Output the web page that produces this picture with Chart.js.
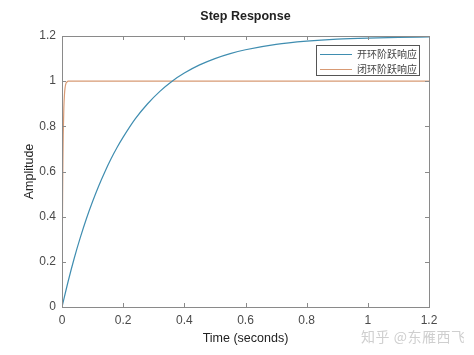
<!DOCTYPE html>
<html>
<head>
<meta charset="utf-8">
<script src="https://cdn.jsdelivr.net/npm/chart.js@4/dist/chart.umd.min.js"></script>
<style>
  html,body{margin:0;padding:0;background:#fff;}
  #wrap{position:relative;width:474px;height:355px;}
  #wm{position:absolute;left:361px;top:326px;font-family:"Noto Sans CJK SC",sans-serif;font-size:14px;letter-spacing:0.5px;color:#cfcfcf;white-space:nowrap;overflow:hidden;width:103px;}
</style>
</head>
<body>
<div id="wrap">
<canvas id="c" width="474" height="355"></canvas>
<div id="wm">知乎 @东雁西飞</div>
</div>
<script>
const chartTitle = "Step Response";
const xTitle = "Time (seconds)";
const yTitle = "Amplitude";
const seriesNames = ["开环阶跃响应", "闭环阶跃响应"];
const xTicks = [0, 0.2, 0.4, 0.6, 0.8, 1, 1.2];
const yTicks = [0, 0.2, 0.4, 0.6, 0.8, 1, 1.2];

const openTime = [0,0.02,0.04,0.06,0.08,0.1,0.12,0.14,0.16,0.18,0.2,0.24,0.28,0.32,0.36,0.4,0.45,0.5,0.55,0.6,0.7,0.8,0.9,1.0,1.1,1.2];
const openAmp  = [0,0.113,0.216,0.308,0.392,0.467,0.536,0.598,0.655,0.706,0.752,0.834,0.900,0.955,1.000,1.036,1.072,1.100,1.122,1.139,1.163,1.177,1.186,1.191,1.194,1.196];

const closedTime = [0,0.001,0.002,0.003,0.004,0.006,0.008,0.010,0.013,0.016,0.020,0.1,0.3,0.6,0.9,1.2];
const closedAmp  = [0,0.30,0.50,0.65,0.76,0.88,0.94,0.97,0.99,0.996,1.0,1.0,1.0,1.0,1.0,1.0];

const toPts = (xs, ys) => xs.map((x, i) => ({x: x, y: ys[i]}));

const axisColor = "#8a8a8a";
const labelColor = "#4a4a4a";
const baseFont = "'Liberation Sans', Arial, sans-serif";

const framePlugin = {
  id: "frame",
  afterDatasetsDraw(chart) {
    const {ctx, chartArea: a, scales} = chart;
    ctx.save();
    ctx.strokeStyle = axisColor;
    ctx.lineWidth = 1;
    ctx.strokeRect(Math.round(a.left) + 0.5, Math.round(a.top) + 0.5, Math.round(a.right - a.left), Math.round(a.bottom - a.top));
    const tl = 4;
    ctx.beginPath();
    xTicks.forEach(v => {
      const px = Math.round(scales.x.getPixelForValue(v)) + 0.5;
      ctx.moveTo(px, a.bottom); ctx.lineTo(px, a.bottom - tl);
      ctx.moveTo(px, a.top); ctx.lineTo(px, a.top + tl);
    });
    yTicks.forEach(v => {
      const py = Math.round(scales.y.getPixelForValue(v)) + 0.5;
      ctx.moveTo(a.left, py); ctx.lineTo(a.left + tl, py);
      ctx.moveTo(a.right, py); ctx.lineTo(a.right - tl, py);
    });
    ctx.stroke();
    // title
    ctx.fillStyle = "#222";
    ctx.font = "bold 12.5px " + baseFont;
    ctx.textAlign = "center";
    ctx.textBaseline = "middle";
    ctx.fillText(chartTitle, (a.left + a.right) / 2, 17);
    // legend
    const lx = 316, ly = 45, lw = 103, lh = 30;
    ctx.fillStyle = "#fff";
    ctx.fillRect(lx, ly, lw, lh);
    ctx.strokeStyle = "#555";
    ctx.strokeRect(lx + 0.5, ly + 0.5, lw, lh);
    const cols = chart.data.datasets.map(d => d.borderColor);
    ctx.font = "10px 'Noto Sans CJK SC', sans-serif";
    ctx.textAlign = "left";
    seriesNames.forEach((n, i) => {
      const yy = ly + 8.5 + i * 15;
      ctx.strokeStyle = cols[i];
      ctx.beginPath();
      ctx.moveTo(lx + 4, Math.round(yy) + 0.5);
      ctx.lineTo(lx + 36, Math.round(yy) + 0.5);
      ctx.stroke();
      ctx.fillStyle = "#444";
      ctx.fillText(n, lx + 41, yy + 0.5);
    });
    ctx.restore();
  }
};

new Chart(document.getElementById("c"), {
  type: "line",
  data: {
    datasets: [
      {label: seriesNames[0], data: toPts(openTime, openAmp), borderColor: "#3f8db0", borderWidth: 1.2, pointRadius: 0, cubicInterpolationMode: "monotone", fill: false},
      {label: seriesNames[1], data: toPts(closedTime, closedAmp), borderColor: "#d89a74", borderWidth: 1.2, pointRadius: 0, cubicInterpolationMode: "monotone", fill: false}
    ]
  },
  options: {
    responsive: false,
    animation: false,
    layout: {padding: {top: 36, right: 45, left: 0, bottom: 0}},
    plugins: {legend: {display: false}, title: {display: false}, tooltip: {enabled: false}},
    scales: {
      x: {
        type: "linear", min: 0, max: 1.2,
        afterBuildTicks: s => { s.ticks = xTicks.map(v => ({value: v})); },
        afterFit: s => { s.height = 48; },
        grid: {display: false, drawTicks: false},
        border: {display: false},
        ticks: {padding: 6, color: labelColor, font: {family: baseFont, size: 12}, maxRotation: 0, callback: v => String(v)},
        title: {display: true, text: xTitle, color: "#222", font: {family: baseFont, size: 12.5}, padding: {top: 0, bottom: 9}}
      },
      y: {
        type: "linear", min: 0, max: 1.2,
        afterBuildTicks: s => { s.ticks = yTicks.map(v => ({value: v})); },
        afterFit: s => { s.width = 62; },
        grid: {display: false, drawTicks: false},
        border: {display: false},
        ticks: {padding: 6, color: labelColor, font: {family: baseFont, size: 12}, callback: v => String(v)},
        title: {display: true, text: yTitle, color: "#222", font: {family: baseFont, size: 12.5}, padding: {top: 22, bottom: 0}}
      }
    }
  },
  plugins: [framePlugin]
});
</script>
</body>
</html>
